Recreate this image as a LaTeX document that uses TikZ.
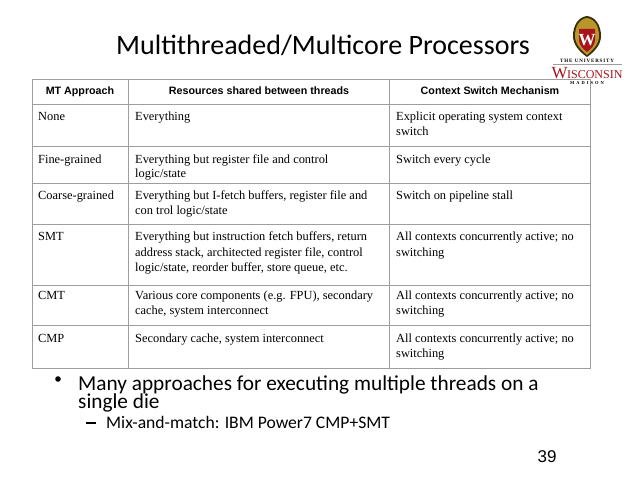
\documentclass[tikz,border=0pt]{standalone}
\usepackage{fontspec}
\setmainfont{Liberation Serif}
\newfontfamily\carlitofont{Carlito}
\newfontfamily\arialfont{Liberation Sans}
\definecolor{gridgray}{gray}{0.62}
\definecolor{crestred}{HTML}{A8141C}
\definecolor{crestgold}{HTML}{B8962A}
\tikzset{
cell/.style={anchor=base west,inner sep=0pt,font=\fontsize{12.4}{15}\selectfont},
headcell/.style={anchor=base,inner sep=0pt,font=\arialfont\bfseries\fontsize{10.7}{13}\selectfont},
rule/.style={draw=gridgray,line width=0.9pt},
bigtext/.style={anchor=base west,inner sep=0pt,font=\carlitofont\fontsize{21.3}{24}\selectfont},
subtext/.style={anchor=base west,inner sep=0pt,font=\carlitofont\fontsize{17.6}{20}\selectfont}
}
\begin{document}
\begin{tikzpicture}[x=1pt,y=-1pt]
\useasboundingbox (0,0) rectangle (638,478);
\fill[white] (0,0) rectangle (638,478);
\node [anchor=base,inner sep=0pt,font=\carlitofont\fontsize{28}{32}\selectfont] (title) at (323,55) {Multithreaded/Multicore Processors};
% table rules
\draw[rule] (32,79) rectangle (590,368);
\foreach \y in {104,146,183,224,285,325}{
\draw[rule] (32,\y)--(590,\y);
}
\foreach \x in {128,389}{
\draw[rule] (\x,79)--(\x,368);
}
% header
\node [headcell] (headA) at (80,95) {MT Approach};
\node [headcell] (headB) at (259,95) {Resources shared between threads};
\node [headcell] (headC) at (490,95) {Context Switch Mechanism};
% first column
\node [cell] (none) at (38,121) {None};
\node [cell] (fine) at (38,164) {Fine-grained};
\node [cell] (coarse) at (38,200) {Coarse-grained};
\node [cell] (smt) at (38,241) {SMT};
\node [cell] (cmt) at (38,300) {CMT};
\node [cell] (cmp) at (38,343) {CMP};
% second column
\node [cell] (noneB) at (135,121) {Everything};
\node [cell] (fineB) at (135,164) {Everything but register file and control};
\node [cell] (fineBb) at (135,178) {logic/state};
\node [cell] (coarseB) at (135,200) {Everything but I-fetch buffers, register file and};
\node [cell] (coarseBb) at (135,215) {con trol logic/state};
\node [cell] (smtB) at (135,241) {Everything but instruction fetch buffers, return};
\node [cell] (smtBb) at (135,257) {address stack, architected register file, control};
\node [cell] (smtBc) at (135,272) {logic/state, reorder buffer, store queue, etc.};
\node [cell] (cmtB) at (135,300) {Various core components (e.g. FPU), secondary};
\node [cell] (cmtBb) at (135,315) {cache, system interconnect};
\node [cell] (cmpB) at (135,343) {Secondary cache, system interconnect};
% third column
\node [cell] (noneC) at (396,121) {Explicit operating system context};
\node [cell] (noneCb) at (396,136) {switch};
\node [cell] (fineC) at (396,164) {Switch every cycle};
\node [cell] (coarseC) at (396,200) {Switch on pipeline stall};
\node [cell] (smtC) at (396,241) {All contexts concurrently active; no};
\node [cell] (smtCb) at (396,257) {switching};
\node [cell] (cmtC) at (396,300) {All contexts concurrently active; no};
\node [cell] (cmtCb) at (396,315) {switching};
\node [cell] (cmpC) at (396,343) {All contexts concurrently active; no};
\node [cell] (cmpCb) at (396,358) {switching};
% bullets
\fill (58,379) circle (2.8);
\node [bigtext] (bulletA) at (78,391) {Many approaches for executing multiple threads on a};
\node [bigtext] (bulletAb) at (78,409) {single die};
\fill (86,422.5) rectangle (96,424);
\node [subtext] (bulletB) at (106,429) {Mix-and-match: IBM Power7 CMP+SMT};
\node [anchor=base,inner sep=0pt,font=\arialfont\fontsize{17}{20}\selectfont] (pagenum) at (547,463) {39};
% crest
\fill[black!70!crestgold] (587,16) .. controls (596,17) and (601,26) .. (601,36) .. controls (601,45) and (594,52) .. (587,57) .. controls (580,52) and (573,45) .. (573,36) .. controls (573,26) and (578,17) .. (587,16)--cycle;
\fill[crestgold] (587,18) .. controls (595,19) and (599,27) .. (599,36) .. controls (599,44) and (593,50) .. (587,55) .. controls (581,50) and (575,44) .. (575,36) .. controls (575,27) and (579,19) .. (587,18)--cycle;
\fill[crestred] (579,29)--(595,29)--(595,40) .. controls (595,45) and (591,49) .. (587,52) .. controls (583,49) and (579,45) .. (579,40)--cycle;
\node [anchor=center,inner sep=0pt,text=white,font=\bfseries\fontsize{17}{17}\selectfont] (crestW) at (587,40) {W};
\node [anchor=center,inner sep=0pt,font=\bfseries\fontsize{5}{6}\selectfont] (logoTop) at (587,60.5) {T\,H\,E\; U\,N\,I\,V\,E\,R\,S\,I\,T\,Y};
\draw[gridgray,line width=0.5pt] (553,64.5)--(622,64.5);
\node [anchor=center,inner sep=0pt,text=crestred,font=\fontsize{17}{17}\selectfont] (logoMain) at (587,73) {W\kern-0.5pt{\fontsize{12}{12}\selectfont ISCONSIN}};
\node [anchor=center,inner sep=0pt,font=\bfseries\fontsize{4.5}{5}\selectfont] (logoBot) at (587,83) {M\;\,A\;\,D\;\,I\;\,S\;\,O\;\,N};
\end{tikzpicture}
\end{document}
